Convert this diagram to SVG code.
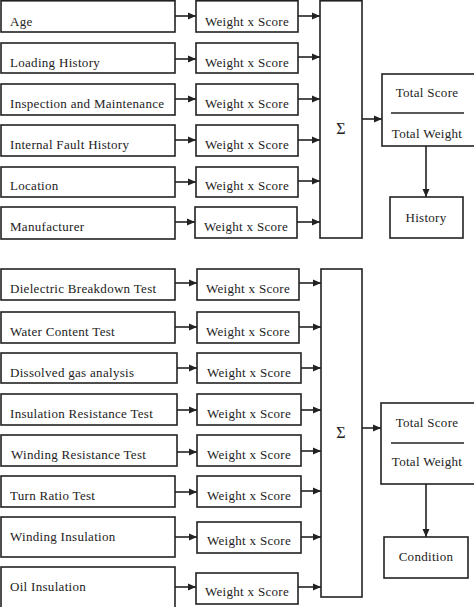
<svg xmlns="http://www.w3.org/2000/svg" width="474" height="607" viewBox="0 0 474 607">
<style>
.b{fill:#fff;stroke:#222;stroke-width:1.6}
.t{font-family:"Liberation Serif","Times New Roman",serif;font-size:13px;fill:#222;letter-spacing:0.3px}
.c{text-anchor:middle}
.s{font-size:16px;letter-spacing:0}
.l{stroke:#222;stroke-width:1.6;fill:none}
</style>
<defs>
<marker id="ah" markerWidth="8" markerHeight="8" refX="8" refY="4" orient="auto" markerUnits="userSpaceOnUse">
<path d="M0,0.5 L8,4 L0,7.5 Z" fill="#222"/>
</marker>
</defs>
<rect width="474" height="607" fill="#fff"/>
<g id="connectors">
<line class="l" x1="175" y1="16" x2="196" y2="16" marker-end="url(#ah)"/>
<line class="l" x1="175" y1="59" x2="196" y2="59" marker-end="url(#ah)"/>
<line class="l" x1="175" y1="99" x2="196" y2="99" marker-end="url(#ah)"/>
<line class="l" x1="175" y1="140" x2="196" y2="140" marker-end="url(#ah)"/>
<line class="l" x1="175" y1="182" x2="196" y2="182" marker-end="url(#ah)"/>
<line class="l" x1="175" y1="222" x2="195" y2="222" marker-end="url(#ah)"/>
<line class="l" x1="298" y1="16" x2="320" y2="16" marker-end="url(#ah)"/>
<line class="l" x1="298" y1="57" x2="320" y2="57" marker-end="url(#ah)"/>
<line class="l" x1="298" y1="99" x2="320" y2="99" marker-end="url(#ah)"/>
<line class="l" x1="298" y1="140" x2="320" y2="140" marker-end="url(#ah)"/>
<line class="l" x1="298" y1="181" x2="320" y2="181" marker-end="url(#ah)"/>
<line class="l" x1="297" y1="222" x2="320" y2="222" marker-end="url(#ah)"/>
<line class="l" x1="362" y1="119" x2="382" y2="119" marker-end="url(#ah)"/>
<line class="l" x1="426" y1="146" x2="426" y2="197" marker-end="url(#ah)"/>
<line class="l" x1="175" y1="283" x2="197" y2="283" marker-end="url(#ah)"/>
<line class="l" x1="175" y1="327" x2="197" y2="327" marker-end="url(#ah)"/>
<line class="l" x1="177" y1="368" x2="197" y2="368" marker-end="url(#ah)"/>
<line class="l" x1="177" y1="410" x2="197" y2="410" marker-end="url(#ah)"/>
<line class="l" x1="177" y1="452" x2="197" y2="452" marker-end="url(#ah)"/>
<line class="l" x1="175" y1="492" x2="197" y2="492" marker-end="url(#ah)"/>
<line class="l" x1="175" y1="537" x2="197" y2="537" marker-end="url(#ah)"/>
<line class="l" x1="175" y1="587" x2="196" y2="587" marker-end="url(#ah)"/>
<line class="l" x1="299" y1="283" x2="321" y2="283" marker-end="url(#ah)"/>
<line class="l" x1="299" y1="327" x2="321" y2="327" marker-end="url(#ah)"/>
<line class="l" x1="301" y1="368" x2="321" y2="368" marker-end="url(#ah)"/>
<line class="l" x1="301" y1="410" x2="321" y2="410" marker-end="url(#ah)"/>
<line class="l" x1="301" y1="451" x2="321" y2="451" marker-end="url(#ah)"/>
<line class="l" x1="301" y1="491" x2="321" y2="491" marker-end="url(#ah)"/>
<line class="l" x1="301" y1="537" x2="321" y2="537" marker-end="url(#ah)"/>
<line class="l" x1="298" y1="587" x2="321" y2="587" marker-end="url(#ah)"/>
<line class="l" x1="362" y1="428" x2="381" y2="428" marker-end="url(#ah)"/>
<line class="l" x1="426" y1="484" x2="426" y2="537" marker-end="url(#ah)"/>
</g>
<g id="age"><rect class="b" x="1" y="0.8" width="174" height="31.2"/><text class="t" x="10" y="26">Age</text></g>
<g id="loading"><rect class="b" x="1" y="43" width="174" height="30"/><text class="t" x="10" y="67">Loading History</text></g>
<g id="inspection"><rect class="b" x="1" y="84" width="174" height="31"/><text class="t" x="10" y="108">Inspection and Maintenance</text></g>
<g id="internal"><rect class="b" x="1" y="125" width="174" height="31"/><text class="t" x="10" y="149">Internal Fault History</text></g>
<g id="location"><rect class="b" x="1" y="167" width="174" height="30"/><text class="t" x="10" y="190">Location</text></g>
<g id="manufacturer"><rect class="b" x="1" y="207" width="174" height="32"/><text class="t" x="10" y="231">Manufacturer</text></g>
<g id="ws1"><rect class="b" x="196" y="0.8" width="102" height="31.2"/><text class="t c" x="247" y="26">Weight x Score</text></g>
<g id="ws2"><rect class="b" x="196" y="43" width="102" height="30"/><text class="t c" x="247" y="67">Weight x Score</text></g>
<g id="ws3"><rect class="b" x="196" y="84" width="102" height="31"/><text class="t c" x="247" y="108">Weight x Score</text></g>
<g id="ws4"><rect class="b" x="196" y="125" width="102" height="31"/><text class="t c" x="247" y="149">Weight x Score</text></g>
<g id="ws5"><rect class="b" x="196" y="167" width="102" height="30"/><text class="t c" x="247" y="190">Weight x Score</text></g>
<g id="ws6"><rect class="b" x="195" y="207" width="102" height="31"/><text class="t c" x="246" y="231">Weight x Score</text></g>
<g id="sum1"><rect class="b" x="320" y="0.8" width="42" height="237.2"/><text class="t c s" x="341" y="134">Σ</text></g>
<g id="ratio1"><rect class="b" x="382" y="74" width="93" height="72"/><text class="t c" x="427" y="97">Total Score</text><line class="l" x1="391" y1="113" x2="464" y2="113"/><text class="t c" x="427" y="138">Total Weight</text></g>
<g id="history"><rect class="b" x="390" y="197" width="73" height="41"/><text class="t c" x="426" y="222">History</text></g>
<g id="dielectric"><rect class="b" x="1" y="269" width="174" height="31"/><text class="t" x="10" y="293">Dielectric Breakdown Test</text></g>
<g id="water"><rect class="b" x="1" y="312" width="174" height="31"/><text class="t" x="10" y="336">Water Content Test</text></g>
<g id="dissolved"><rect class="b" x="1" y="353" width="176" height="30"/><text class="t" x="10" y="377">Dissolved gas analysis</text></g>
<g id="insres"><rect class="b" x="1" y="394" width="176" height="31"/><text class="t" x="10" y="418">Insulation Resistance Test</text></g>
<g id="windres"><rect class="b" x="1" y="435" width="176" height="31"/><text class="t" x="11" y="459">Winding Resistance Test</text></g>
<g id="turn"><rect class="b" x="1" y="476" width="174" height="31"/><text class="t" x="10" y="500">Turn Ratio Test</text></g>
<g id="windins"><rect class="b" x="1" y="517" width="174" height="40"/><text class="t" x="10" y="541">Winding Insulation</text></g>
<g id="oil"><rect class="b" x="1" y="567" width="174" height="42"/><text class="t" x="10" y="591">Oil Insulation</text></g>
<g id="ws7"><rect class="b" x="197" y="269" width="102" height="31"/><text class="t c" x="248" y="293">Weight x Score</text></g>
<g id="ws8"><rect class="b" x="197" y="312" width="102" height="31"/><text class="t c" x="248" y="336">Weight x Score</text></g>
<g id="ws9"><rect class="b" x="197" y="353" width="104" height="30"/><text class="t c" x="249" y="377">Weight x Score</text></g>
<g id="ws10"><rect class="b" x="197" y="394" width="104" height="31"/><text class="t c" x="249" y="418">Weight x Score</text></g>
<g id="ws11"><rect class="b" x="197" y="435" width="104" height="31"/><text class="t c" x="249" y="459">Weight x Score</text></g>
<g id="ws12"><rect class="b" x="197" y="476" width="104" height="31"/><text class="t c" x="249" y="500">Weight x Score</text></g>
<g id="ws13"><rect class="b" x="197" y="522" width="104" height="31"/><text class="t c" x="249" y="545">Weight x Score</text></g>
<g id="ws14"><rect class="b" x="196" y="573" width="102" height="31"/><text class="t c" x="247" y="596">Weight x Score</text></g>
<g id="sum2"><rect class="b" x="321" y="269" width="41" height="328"/><text class="t c s" x="341" y="438">Σ</text></g>
<g id="ratio2"><rect class="b" x="381" y="403" width="94" height="81"/><text class="t c" x="427" y="427">Total Score</text><line class="l" x1="391" y1="443" x2="464" y2="443"/><text class="t c" x="427" y="466">Total Weight</text></g>
<g id="condition"><rect class="b" x="384" y="537" width="84" height="41"/><text class="t c" x="426" y="561">Condition</text></g>
</svg>
